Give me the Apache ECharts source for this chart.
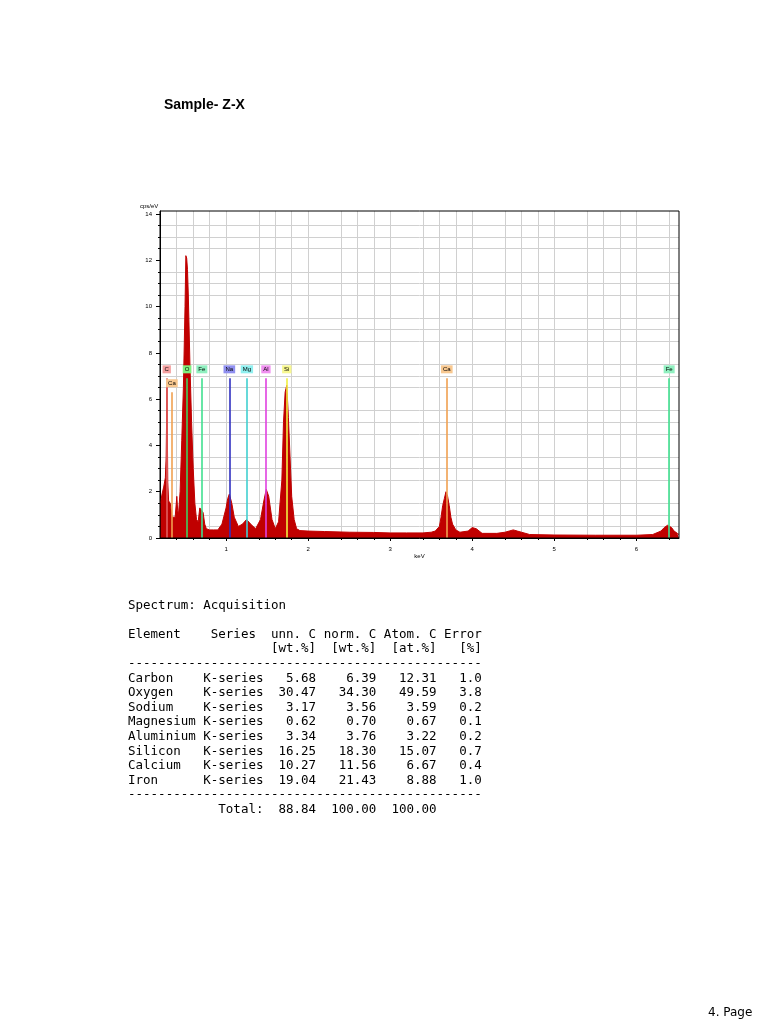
<!DOCTYPE html>
<html><head><meta charset="utf-8">
<script src="https://cdn.jsdelivr.net/npm/echarts@6/dist/echarts.min.js"></script>
<style>html,body{margin:0;padding:0;background:#fff}#c{width:768px;height:1024px}</style>
</head><body><div id="c"></div>
<script>
// spectrum: [keV, cps/eV]
const energy = [0.2,0.22,0.24,0.26,0.27,0.28,0.29,0.3,0.32,0.34,0.36,0.38,0.4,0.41,0.42,0.44,0.46,0.48,0.5,0.51,0.52,0.53,0.54,0.55,0.56,0.58,0.6,0.62,0.64,0.66,0.68,0.7,0.72,0.74,0.76,0.8,0.85,0.9,0.95,1.0,1.02,1.04,1.07,1.1,1.15,1.2,1.25,1.3,1.36,1.42,1.46,1.49,1.52,1.56,1.6,1.64,1.68,1.7,1.72,1.74,1.76,1.78,1.8,1.83,1.86,1.9,2.0,2.2,2.5,2.8,3.0,3.2,3.4,3.5,3.55,3.6,3.62,3.64,3.66,3.68,3.7,3.72,3.74,3.76,3.8,3.85,3.95,4.0,4.05,4.12,4.3,4.4,4.45,4.5,4.55,4.6,4.7,5.0,5.5,6.0,6.2,6.3,6.34,6.38,6.4,6.43,6.46,6.5,6.52];
const counts = [1.5,1.9,2.2,2.6,3.5,6.5,2.4,1.6,1.5,0.9,0.85,0.9,1.8,1.2,1.0,2.0,4.2,6.5,10.0,12.2,12.1,11.6,10.5,9.0,7.5,5.0,3.0,1.5,0.8,0.7,1.3,1.35,1.1,0.6,0.4,0.35,0.35,0.35,0.6,1.3,1.7,1.9,1.5,0.9,0.5,0.6,0.8,0.6,0.4,0.8,1.6,2.1,1.8,0.8,0.4,0.7,2.5,5.0,6.3,6.6,5.2,3.5,1.8,0.8,0.4,0.32,0.3,0.28,0.25,0.24,0.22,0.22,0.22,0.25,0.3,0.5,0.9,1.4,1.7,2.0,1.8,1.4,0.9,0.6,0.35,0.25,0.3,0.45,0.4,0.2,0.2,0.25,0.3,0.35,0.3,0.25,0.15,0.13,0.12,0.12,0.15,0.3,0.45,0.55,0.5,0.45,0.3,0.2,0.15];
// element markers
const markerNames = ['C','Ca','O','Fe','Na','Mg','Al','Si','Ca','Fe'];
const markerKeV = [0.277,0.34,0.525,0.705,1.04,1.254,1.486,1.74,3.69,6.40];
const markerTop = [6.9,6.3,6.9,6.9,6.9,6.9,6.9,6.9,6.9,6.9];
const markerColors = ['#e06060','#f0a050','#40d060','#40e090','#3030c0','#40d0d0','#e040e0','#f0f040','#f0a050','#40e090'];
const markerBg = ['#f4a0a0','#f8c890','#80f080','#90f0c0','#9090f0','#90f0f0','#f090f0','#f8f890','#f8c890','#90f0c0'];
// table
const elements = ['Carbon','Oxygen','Sodium','Magnesium','Aluminium','Silicon','Calcium','Iron'];
const seriesName = ['K-series','K-series','K-series','K-series','K-series','K-series','K-series','K-series'];
const unnC = ['5.68','30.47','3.17','0.62','3.34','16.25','10.27','19.04'];
const normC = ['6.39','34.30','3.56','0.70','3.76','18.30','11.56','21.43'];
const atomC = ['12.31','49.59','3.59','0.67','3.22','15.07','6.67','8.88'];
const errorPct = ['1.0','3.8','0.2','0.1','0.2','0.7','0.4','1.0'];
const totals = ['88.84','100.00','100.00'];

const dash = '-'.repeat(47);
const lines = ['Spectrum: Acquisition','',
 'Element    Series  unn. C norm. C Atom. C Error',
 '                   [wt.%]  [wt.%]  [at.%]   [%]',
 dash];
for (let i=0;i<elements.length;i++){
  lines.push(elements[i].padEnd(10)+seriesName[i]+unnC[i].padStart(7)+normC[i].padStart(8)+atomC[i].padStart(8)+errorPct[i].padStart(6));
}
lines.push(dash);
lines.push('            Total:'+totals[0].padStart(7)+totals[1].padStart(8)+totals[2].padStart(8));

const markData = markerKeV.map((x,i)=>[
  {coord:[x,0], lineStyle:{color:markerColors[i],width:1.6,type:'solid'},
   label:{show:true,position:'end',formatter:markerNames[i],fontSize:6,color:'#000',backgroundColor:markerBg[i],padding:[1,2]}},
  {coord:[x,markerTop[i]]}
]);

const chart = echarts.init(document.getElementById('c'));
chart.setOption({
  animation:false,
  grid:{left:160,right:89,top:211,bottom:486},
  xAxis:{type:'value',min:0.195,max:6.52,interval:1,
    axisLabel:{fontSize:6,color:'#000',customValues:[1,2,3,4,5,6],formatter:v=>v},
    axisTick:{customValues:[1,2,3,4,5,6],length:3,lineStyle:{color:'#000'}},
    minorTick:{show:true,splitNumber:5,length:2,lineStyle:{color:'#000'}},
    splitLine:{show:false},
    minorSplitLine:{show:true,lineStyle:{color:'#d0d0d0',width:1}},
    axisLine:{lineStyle:{color:'#000'}},
    name:'keV',nameLocation:'middle',nameGap:14,nameTextStyle:{fontSize:6,color:'#000'}},
  yAxis:{type:'value',min:0,max:14.13,interval:2,
    axisLabel:{fontSize:6,color:'#000',customValues:[0,2,4,6,8,10,12,14]},
    axisTick:{customValues:[0,2,4,6,8,10,12,14],length:4,lineStyle:{color:'#000'}},
    minorTick:{show:true,splitNumber:4,length:2,lineStyle:{color:'#000'}},
    splitLine:{show:false},
    minorSplitLine:{show:true,lineStyle:{color:'#d0d0d0',width:1}},
    axisLine:{show:true,lineStyle:{color:'#000'}},
    name:'cps/eV',nameLocation:'end',nameGap:2,nameTextStyle:{fontSize:6,color:'#000',align:'left',padding:[0,0,0,-20]}},
  graphic:[
    {type:'rect',shape:{x:160,y:211,width:519,height:327},style:{fill:'none',stroke:'#000',lineWidth:1},z:10},
    {type:'text',left:164,top:98,style:{text:'Sample- Z-X',font:'bold 14px "Liberation Sans", Arial',fill:'#000'}},
    {type:'text',left:708,top:1007,style:{text:'4. Page',font:'12px "DejaVu Sans"',fill:'#000'}},
    {type:'text',left:128,top:598,style:{text:lines.join('\n'),font:'12.5px "DejaVu Sans Mono"',lineHeight:14.6,fill:'#000'}}
  ],
  series:[{type:'line',data:energy.map((e,i)=>[e,counts[i]]),symbol:'none',
    lineStyle:{color:'#c00000',width:1},areaStyle:{color:'#c00000',opacity:1},
    markLine:{symbol:'none',silent:true,data:markData}}]
});
</script></body></html>
